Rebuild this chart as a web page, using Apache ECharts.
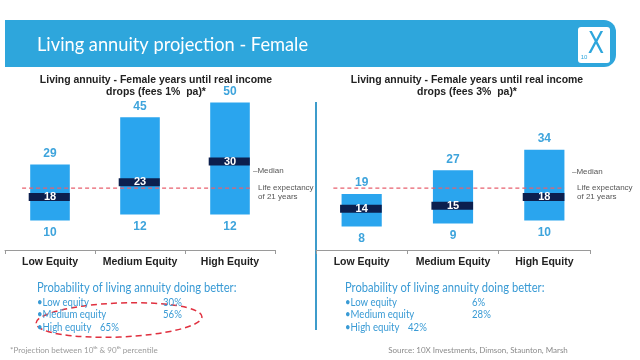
<!DOCTYPE html>
<html>
<head>
<meta charset="utf-8">
<script src="https://cdn.jsdelivr.net/npm/echarts@6/dist/echarts.min.js"></script>
<style>html,body{margin:0;padding:0;background:#fff;}#c{width:640px;height:360px;}</style>
</head>
<body>
<div id="c"></div>
<script>
const categories = ['Low Equity', 'Medium Equity', 'High Equity'];
const fee1Low = [10, 12, 12];
const fee1High = [29, 45, 50];
const fee1Median = [18, 23, 30];
const fee3Low = [8, 9, 10];
const fee3High = [19, 27, 34];
const fee3Median = [14, 15, 18];
const lifeExpectancy = 21;
const probLabels = ['\u2022Low equity', '\u2022Medium equity', '\u2022High equity'];
const prob1 = ['30%', '56%', '65%'];
const prob3 = ['6%', '28%', '42%'];

const BAR = '#2aa5ee';
const NAVY = '#0c1f4e';
const LABEL = '#3ea4dc';
const ARIAL = 'Liberation Sans, Arial, sans-serif';
const GILL = 'Lato, sans-serif';

function rangeRender(params, api) {
  const i = api.value(0);
  const lo = api.coord([i, api.value(1)]);
  const hi = api.coord([i, api.value(2)]);
  const md = api.coord([i, api.value(3)]);
  const bw = api.size([1, 0])[0];
  const w = bw * 0.44;
  const x = lo[0] - w / 2;
  return {
    type: 'group',
    children: [
      { type: 'rect', shape: { x: x, y: hi[1], width: w, height: lo[1] - hi[1] }, style: { fill: BAR } },
      { type: 'rect', shape: { x: x - 1.5, y: md[1] - 4, width: w + 1.5, height: 8 }, style: { fill: NAVY } },
      { type: 'text', x: lo[0], y: md[1], style: { text: String(api.value(3)), fill: '#fff', font: 'bold 11px ' + ARIAL, textAlign: 'center', textVerticalAlign: 'middle' } },
      { type: 'text', x: lo[0], y: hi[1] - 11, style: { text: String(api.value(2)), fill: LABEL, font: 'bold 12px ' + ARIAL, textAlign: 'center', textVerticalAlign: 'middle' } },
      { type: 'text', x: lo[0], y: lo[1] + 12.5, style: { text: String(api.value(1)), fill: LABEL, font: 'bold 12px ' + ARIAL, textAlign: 'center', textVerticalAlign: 'middle' } }
    ]
  };
}

function lifeRender(params, api) {
  const a = api.coord([0, api.value(1)]);
  const b = api.coord([categories.length - 1, api.value(1)]);
  const bw = api.size([1, 0])[0];
  return {
    type: 'line',
    shape: { x1: a[0] - 0.31 * bw, y1: a[1], x2: b[0] + 0.22 * bw, y2: a[1] },
    style: { stroke: '#e8606e', lineWidth: 1.2, lineDash: [4, 3] }
  };
}

function makeData(lo, hi, md) {
  return categories.map((c, i) => [i, lo[i], hi[i], md[i]]);
}

const gridTop = 102.5, gridH = 147.5;

function xAxis(idx) {
  return {
    type: 'category', gridIndex: idx, data: categories,
    axisLine: { lineStyle: { color: '#9a9a9a', width: 1 } },
    axisTick: { show: true, length: 4, lineStyle: { color: '#9a9a9a' } },
    axisLabel: { interval: 0, color: '#222', fontFamily: ARIAL, fontWeight: 'bold', fontSize: 10.5, margin: 7 }
  };
}
function yAxis(idx) {
  return { type: 'value', gridIndex: idx, min: 0, max: 50, show: false, splitLine: { show: false } };
}

function txt(x, y, text, font, fill, align, sx) {
  return { type: 'text', x: x, y: y, scaleX: sx || 1, style: { text: text, font: font, fill: fill, textAlign: align || 'left', textVerticalAlign: 'middle' } };
}

const graphics = [
  { type: 'rect', shape: { x: 5, y: 20, width: 611, height: 47, r: [0, 12, 12, 0] }, style: { fill: '#2ea6dc' } },
  txt(37, 44.5, 'Living annuity projection - Female', '19px ' + GILL, '#ffffff', 'left', 0.96),
  { type: 'rect', shape: { x: 578, y: 27, width: 32, height: 36, r: 3 }, style: { fill: '#ffffff' } },
  txt(596, 45, 'X', '30px DejaVu Sans ExtraLight, DejaVu Sans, sans-serif', '#2ea6dc', 'center', 0.8),
  txt(584, 57, '10', '6px ' + ARIAL, '#2ea6dc', 'center'),
  { type: 'line', shape: { x1: 316, y1: 102, x2: 316, y2: 330 }, style: { stroke: '#3d9ccb', lineWidth: 2 } },
  txt(156, 80, 'Living annuity - Female years until real income', 'bold 11px ' + ARIAL, '#222', 'center', 0.95),
  txt(156, 92, 'drops (fees 1%  pa)*', 'bold 11px ' + ARIAL, '#222', 'center', 0.95),
  txt(467, 80, 'Living annuity - Female years until real income', 'bold 11px ' + ARIAL, '#222', 'center', 0.95),
  txt(467, 92, 'drops (fees 3%  pa)*', 'bold 11px ' + ARIAL, '#222', 'center', 0.95),
  txt(253, 171, '\u2013Median', '8px ' + ARIAL, '#555'),
  txt(258, 188, 'Life expectancy', '8px ' + ARIAL, '#555'),
  txt(258, 197, 'of 21 years', '8px ' + ARIAL, '#555'),
  txt(572, 172, '\u2013Median', '8px ' + ARIAL, '#555'),
  txt(577, 188, 'Life expectancy', '8px ' + ARIAL, '#555'),
  txt(577, 197, 'of 21 years', '8px ' + ARIAL, '#555'),
  txt(37, 288, 'Probability of living annuity doing better:', '13px ' + GILL, '#3a9bd5', 'left', 0.86),
  txt(345, 288, 'Probability of living annuity doing better:', '13px ' + GILL, '#3a9bd5', 'left', 0.86),
  txt(10, 350, '*Projection between 10\u1d57\u02b0 & 90\u1d57\u02b0 percentile', '8px ' + GILL, '#9a9a9a'),
  txt(478, 350, 'Source: 10X Investments, Dimson, Staunton, Marsh', '8px ' + GILL, '#8a8a8a', 'center'),
  { type: 'ellipse', x: 119, y: 320, rotation: 0.04, shape: { cx: 0, cy: 0, rx: 83, ry: 17 }, style: { fill: 'none', stroke: '#e0303f', lineWidth: 1.5, lineDash: [6, 4] } }
];
const probX1 = [163, 163, 100];
const probX3 = [472, 472, 408];
const probY = [302, 314.5, 327];
probLabels.forEach((l, i) => {
  graphics.push(txt(37, probY[i], l, '12px ' + GILL, '#3a9bd5', 'left', 0.8));
  graphics.push(txt(probX1[i], probY[i], prob1[i], '12px ' + GILL, '#3a9bd5', 'left', 0.8));
  graphics.push(txt(345, probY[i], l, '12px ' + GILL, '#3a9bd5', 'left', 0.8));
  graphics.push(txt(probX3[i], probY[i], prob3[i], '12px ' + GILL, '#3a9bd5', 'left', 0.8));
});

const chart = echarts.init(document.getElementById('c'), null, { renderer: 'canvas' });
chart.setOption({
  animation: false,
  backgroundColor: '#ffffff',
  grid: [
    { left: 5, width: 270, top: gridTop, height: gridH },
    { left: 316, width: 274, top: gridTop, height: gridH }
  ],
  xAxis: [xAxis(0), xAxis(1)],
  yAxis: [yAxis(0), yAxis(1)],
  series: [
    { type: 'custom', xAxisIndex: 0, yAxisIndex: 0, renderItem: rangeRender, data: makeData(fee1Low, fee1High, fee1Median), encode: { x: 0, y: [1, 2, 3] }, z: 2 },
    { type: 'custom', xAxisIndex: 1, yAxisIndex: 1, renderItem: rangeRender, data: makeData(fee3Low, fee3High, fee3Median), encode: { x: 0, y: [1, 2, 3] }, z: 2 },
    { type: 'custom', xAxisIndex: 0, yAxisIndex: 0, renderItem: lifeRender, data: [[0, lifeExpectancy]], encode: { x: 0, y: 1 }, z: 3 },
    { type: 'custom', xAxisIndex: 1, yAxisIndex: 1, renderItem: lifeRender, data: [[0, lifeExpectancy]], encode: { x: 0, y: 1 }, z: 3 }
  ],
  graphic: graphics
});
</script>
</body>
</html>
